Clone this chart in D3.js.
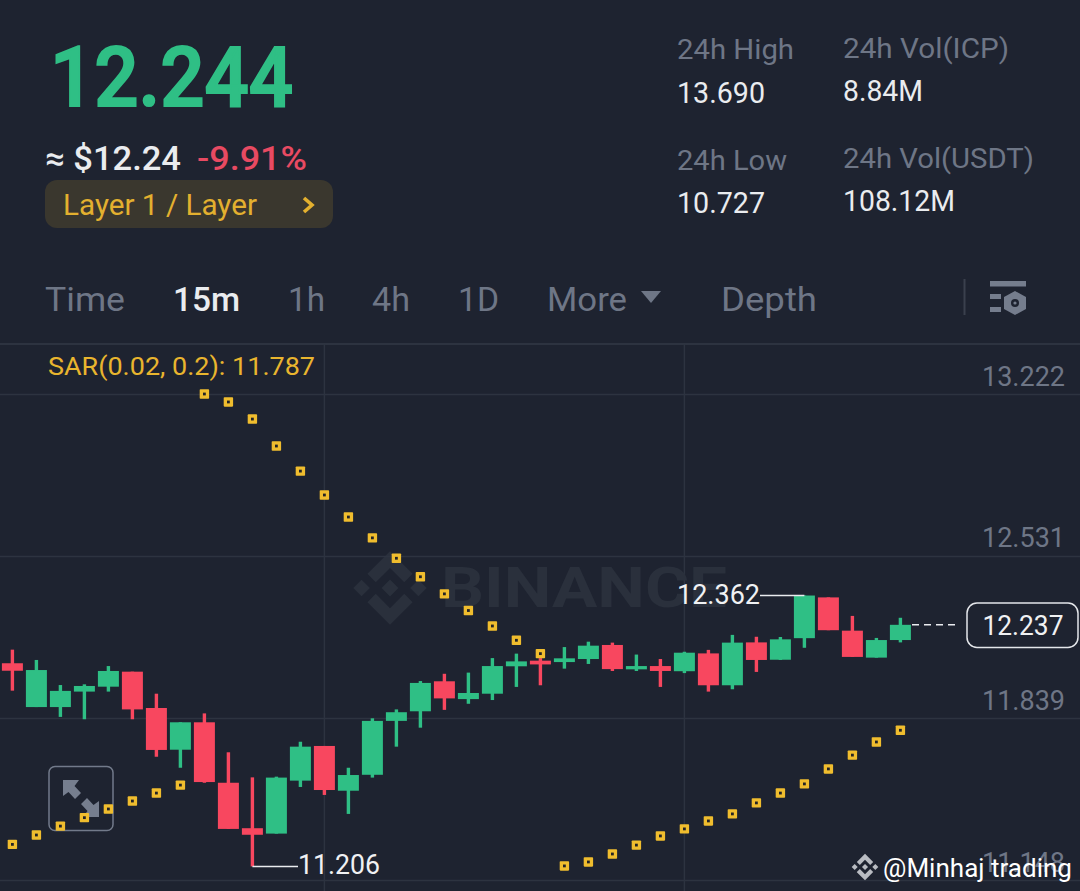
<!DOCTYPE html>
<html><head><meta charset="utf-8">
<script src="https://cdn.jsdelivr.net/npm/d3@7"></script>
<style>html,body{margin:0;padding:0;background:#1e2330;overflow:hidden}svg{display:block}text{font-family:Roboto,sans-serif}</style>
</head><body><svg id="c" width="1080" height="891"></svg>
<script>
const open  =[12.073,11.886,11.886,11.952,11.973,12.037,11.882,11.704,11.821,11.563,11.369,11.346,11.572,11.720,11.529,11.597,11.827,11.868,11.996,11.920,11.943,12.060,12.084,12.078,12.091,12.151,12.047,12.061,12.039,12.115,11.979,12.162,12.088,12.180,12.354,12.212,12.097,12.172];
const close_=[12.041,12.044,11.955,11.976,12.040,11.876,11.703,11.821,11.566,11.366,11.341,11.585,11.717,11.532,11.596,11.827,11.864,11.989,11.923,11.946,12.061,12.081,12.068,12.094,12.148,12.048,12.061,12.040,12.118,11.979,12.161,12.087,12.175,12.362,12.214,12.100,12.172,12.237];
const high  =[12.131,12.087,11.980,11.983,12.061,12.037,11.943,11.821,11.859,11.693,11.586,11.589,11.738,11.720,11.627,11.838,11.876,11.997,12.028,12.033,12.095,12.114,12.095,12.142,12.165,12.161,12.110,12.091,12.122,12.130,12.194,12.186,12.185,12.362,12.354,12.275,12.181,12.267];
const low   =[11.956,11.886,11.844,11.834,11.952,11.834,11.674,11.627,11.563,11.366,11.206,11.346,11.545,11.511,11.430,11.585,11.717,11.798,11.874,11.900,11.916,11.972,11.979,12.050,12.070,12.040,12.040,11.972,12.031,11.952,11.962,12.036,12.087,12.139,12.214,12.100,12.097,12.162];
const sar   =[11.300,11.340,11.378,11.414,11.451,11.485,11.519,11.553,13.222,13.188,13.115,13.000,12.893,12.791,12.697,12.608,12.521,12.442,12.369,12.298,12.232,12.171,12.114,11.208,11.225,11.259,11.297,11.336,11.366,11.400,11.430,11.477,11.519,11.558,11.622,11.681,11.737,11.787];
const priceTicks=[13.222,12.531,11.839,11.148];
const timeGrid=[13,28];
const tabs=["Time","15m","1h","4h","1D","More","Depth"];
const tabX=[45,173,288,372,458,547,721];
const tabW=[80,67,37,38,41,80,96];

const C={bg:"#1e2330",grid:"#2d3340",up:"#2fbf85",down:"#f8475f",sar:"#f0bd2e",label:"#6e7686",white:"#eaecef"};
const svg=d3.select("#c");
svg.append("rect").attr("width",1080).attr("height",891).attr("fill",C.bg);
function T(p,x,y,s,size,fill,weight,anchor,len){
  const t=p.append("text").attr("x",x).attr("y",y).attr("font-size",size).attr("fill",fill)
   .attr("font-weight",weight||400).attr("text-anchor",anchor||"start").text(s);
  if(len) t.attr("textLength",len).attr("lengthAdjust","spacingAndGlyphs");
  return t;
}
const LOGO=["M38.73 53.2l24.59-24.58 24.6 24.6 14.3-14.31L63.32 0 24.43 38.9l14.3 14.3z","M0 63.31l14.3-14.31 14.31 14.31-14.31 14.3z","M38.73 73.41l24.59 24.59 24.6-24.6 14.31 14.29-38.9 38.91-38.91-38.88v-.03z","M98 63.31l14.3-14.31 14.31 14.3-14.31 14.32z","M77.83 63.3L63.32 48.78 52.59 59.51l-1.24 1.23-2.54 2.54v.03l14.51 14.5 14.51-14.52z"];
function logo(cx,cy,s,fill){
  const g=svg.append("g").attr("transform",`translate(${cx-63.3*s},${cy-63.3*s}) scale(${s})`);
  LOGO.forEach(d=>g.append("path").attr("d",d).attr("fill",fill));
}
// header
const h=svg.append("g");
T(h,50,106,"12.244",83,C.up,500,"start",243).attr("stroke",C.up).attr("stroke-width",2);
T(h,45,170,"≈ $12.24",34,C.white,500,"start",136);
T(h,197,170,"-9.91%",34,"#e84a62",500,"start",110);
h.append("rect").attr("x",45).attr("y",180).attr("width",288).attr("height",48).attr("rx",12).attr("fill","#3a372e");
T(h,63,215,"Layer 1 / Layer",29,"#e3b02f",400,"start",194);
h.append("path").attr("d","M304 198L312 205L304 212").attr("fill","none").attr("stroke","#e3b02f").attr("stroke-width",3.6);
[[677,59,"24h High",117],[843,58,"24h Vol(ICP)",166],[677,170,"24h Low",110],[843,168,"24h Vol(USDT)",191]].forEach(d=>T(h,d[0],d[1],d[2],28,C.label,400,"start",d[3]));
[[677,103,"13.690",88],[843,101,"8.84M",80],[677,213,"10.727",88],[843,211,"108.12M",112]].forEach(d=>T(h,d[0],d[1],d[2],29,C.white,400,"start",d[3]));
// tabs
tabs.forEach((t,i)=>T(h,tabX[i],311,t,34,t==="15m"?C.white:"#6e7686",t==="15m"?500:400,"start",tabW[i]));
h.append("path").attr("d","M641 291H661L651 303Z").attr("fill","#6e7686");
h.append("rect").attr("x",963.5).attr("y",279).attr("width",2).attr("height",36).attr("fill","#3a404d");
const ic="#757d8d";
[[990,281,36,5.5],[990,294,11,5],[990,307,11,5]].forEach(r=>h.append("rect").attr("x",r[0]).attr("y",r[1]).attr("width",r[2]).attr("height",r[3]).attr("fill",ic));
h.append("path").attr("d","M1015 291L1026 297V309L1015 315L1004 309V297Z").attr("fill",ic);
h.append("circle").attr("cx",1015).attr("cy",303).attr("r",4).attr("fill",C.bg);
h.append("circle").attr("cx",1015).attr("cy",303).attr("r",1.6).attr("fill",ic);

// chart
const x=d3.scaleLinear().domain([0,37]).range([12.4,900.4]);
const y=d3.scaleLinear().domain([13.222,11.148]).range([394,880]);
svg.append("line").attr("x1",0).attr("x2",1080).attr("y1",344).attr("y2",344).attr("stroke",C.grid).attr("stroke-width",2);
timeGrid.forEach(i=>svg.append("line").attr("x1",x(i)).attr("x2",x(i)).attr("y1",344).attr("y2",891).attr("stroke",C.grid).attr("stroke-width",1.5));

logo(390,588,.58,"#2a303c");
T(svg,441,607,"BINANCE",56,"#2a303c",700,"start",286);

const ax=svg.append("g").call(d3.axisRight(y).tickValues(priceTicks).tickSize(1080).tickFormat(d3.format(".3f")));
ax.select(".domain").remove();
ax.selectAll("line").attr("stroke",C.grid).attr("stroke-width",1.5);
ax.selectAll("text").attr("x",1065).attr("dy",0).attr("y",-9).attr("text-anchor","end").attr("font-size",27).attr("font-family","Roboto,sans-serif").attr("fill",C.label);

T(svg,48,375,"SAR(0.02, 0.2): 11.787",26.5,"#e9b52e",400,"start",267);

// expand button
const eb=svg.append("g");
eb.append("rect").attr("x",49).attr("y",766.5).attr("width",64).attr("height",64).attr("rx",6).attr("fill","none").attr("stroke","#727a8a").attr("stroke-width",1.5);
eb.append("path").attr("d","M63 780H79L74.500 786L81 793L75 799L68.500 792L63 796Z").attr("fill","#767e8e");
eb.append("path").attr("d","M99 817H83L87.500 811L81 804L87 798L93.500 805L99 801Z").attr("fill","#767e8e");

// candles
const rows=open.map((o,i)=>({i,o,c:close_[i],h:high[i],l:low[i],s:sar[i]}));
const col=d=>d.c>=d.o?C.up:C.down;
const cg=svg.append("g");
cg.selectAll("rect.w").data(rows).join("rect").attr("class","w").attr("x",d=>x(d.i)-1.7).attr("width",3.4)
  .attr("y",d=>y(d.h)).attr("height",d=>y(d.l)-y(d.h)).attr("fill",col);
cg.selectAll("rect.b").data(rows).join("rect").attr("class","b").attr("x",d=>x(d.i)-10.5).attr("width",21)
  .attr("y",d=>y(Math.max(d.o,d.c))).attr("height",d=>Math.max(2,Math.abs(y(d.o)-y(d.c)))).attr("fill",col);
// SAR
const sg=svg.append("g");
sg.selectAll("rect.s").data(rows).join("rect").attr("class","s").attr("x",d=>x(d.i)-4.7).attr("y",d=>y(d.s)-4.7).attr("width",9.4).attr("height",9.4).attr("rx",.8).attr("fill",C.sar);
sg.selectAll("rect.h").data(rows).join("rect").attr("class","h").attr("x",d=>x(d.i)-1.4).attr("y",d=>y(d.s)-1.4).attr("width",2.8).attr("height",2.8).attr("fill","#232326");

// annotations
const hiI=close_.indexOf(d3.max(close_)), loI=low.indexOf(d3.min(low));
svg.append("line").attr("x1",760).attr("x2",x(hiI)).attr("y1",y(high[hiI])).attr("y2",y(high[hiI])).attr("stroke",C.white).attr("stroke-width",1.5);
T(svg,677,604,d3.format(".3f")(high[hiI]),27,"#f0f1f3",400,"start",83);
svg.append("line").attr("x1",x(loI)).attr("x2",298).attr("y1",y(low[loI])).attr("y2",y(low[loI])).attr("stroke",C.white).attr("stroke-width",1.5);
T(svg,298,874,d3.format(".3f")(low[loI]),27,"#f0f1f3",400,"start",82);
const lastPrice=12.237, ly=y(lastPrice);
svg.append("line").attr("x1",912).attr("x2",955).attr("y1",ly).attr("y2",ly).attr("stroke",C.white).attr("stroke-width",1.5).attr("stroke-dasharray","7 5");
svg.append("rect").attr("x",967).attr("y",603).attr("width",111).attr("height",44.500).attr("rx",10).attr("fill",C.bg).attr("stroke","#e4e6ea").attr("stroke-width",1.5);
T(svg,1023,635,d3.format(".3f")(lastPrice),27,"#f0f1f3",400,"middle",81);

// credit
logo(865,867,.21,"#b9bcc2");
T(svg,883,877,"@Minhaj trading",26,"#ffffff",400,"start",189);
</script></body></html>
